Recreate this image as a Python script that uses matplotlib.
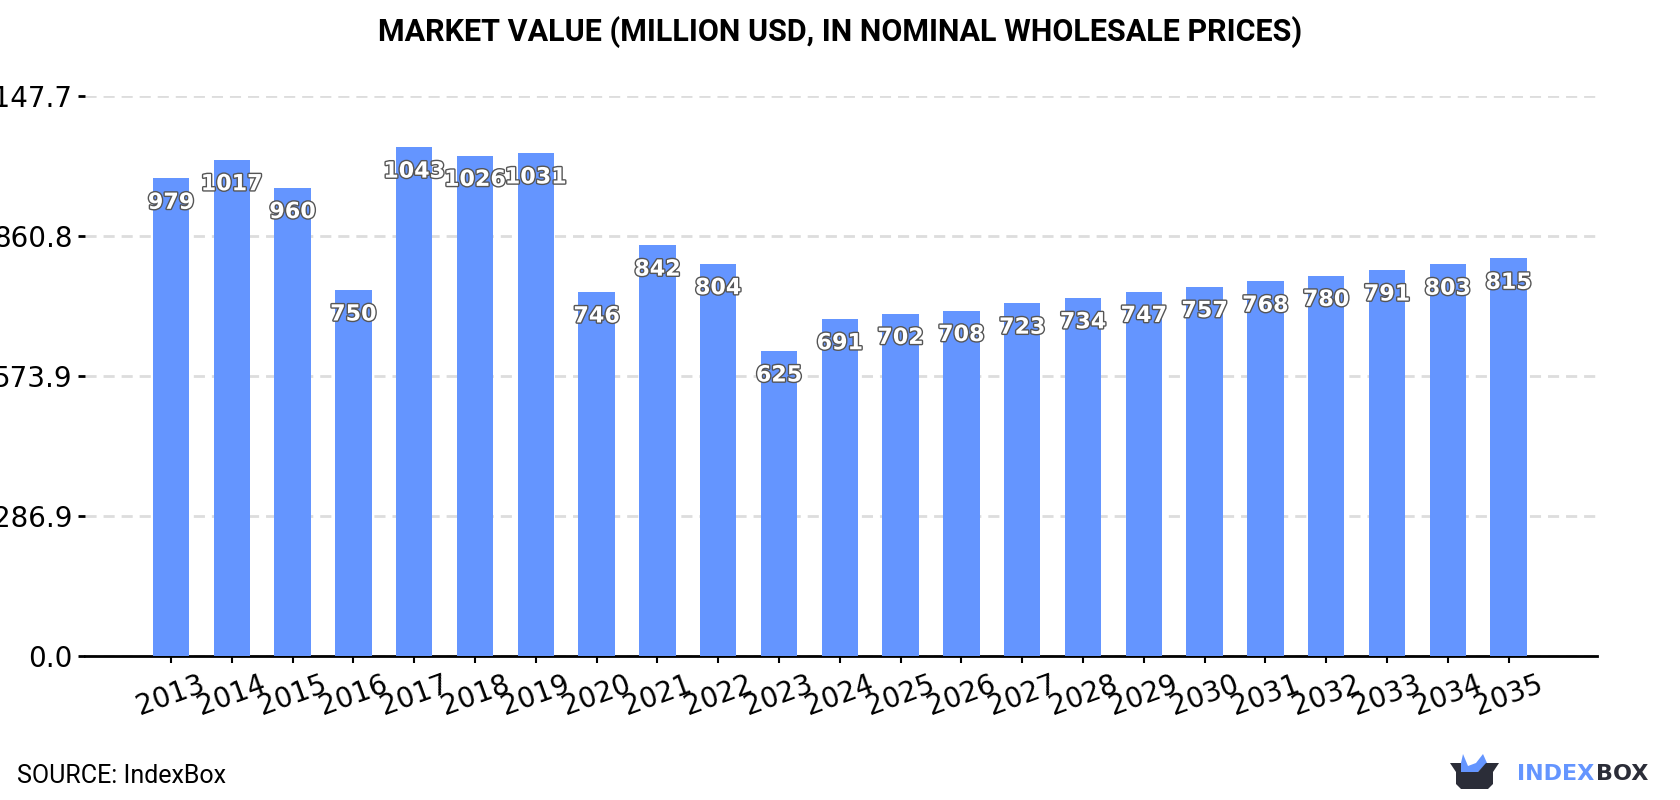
import matplotlib
matplotlib.use("Agg")
import matplotlib.pyplot as plt
import matplotlib.patheffects as pe
from matplotlib.patches import Polygon

years = list(range(2013, 2036))
values = [979, 1017, 960, 750, 1043, 1026, 1031, 746, 842, 804, 625, 691,
          702, 708, 723, 734, 747, 757, 768, 780, 791, 803, 815]
yticks = [0.0, 286.9, 573.9, 860.8, 1147.7]
ylabels = ["0.0", "286.9", "573.9", "860.8", "1147.7"]

BLUE = "#6495ff"
DARK = "#2b2d38"

W, H = 1680, 800
fig = plt.figure(figsize=(W / 100, H / 100), dpi=100, facecolor="white")
ax = fig.add_axes([85 / W, 1 - 656 / H, (1597 - 85) / W, (656 - 96.2) / H])

ax.bar(years, values, width=0.6, color=BLUE, zorder=3)
ax.set_xlim(2013 - 86 / 60.8, 2013 + (1597 - 171) / 60.8)
ax.set_ylim(0, 1147.7)

for s in ["top", "left", "right"]:
    ax.spines[s].set_visible(False)
ax.spines["bottom"].set_linewidth(2)

ax.set_yticks(yticks, ylabels, fontsize=20, family="DejaVu Sans")
ax.set_xticks(years, [str(y) for y in years], fontsize=20, rotation=20,
              family="DejaVu Sans")
ax.tick_params(axis="y", length=5, width=2, pad=4)
ax.tick_params(axis="x", length=5, width=1.5, pad=5)
ax.grid(axis="y", color="#dddddd", linestyle="--", linewidth=2, dashes=(4, 2.5),
        zorder=0)
ax.set_axisbelow(True)

# value labels sit just under the top of each bar
for x, v in zip(years, values):
    ax.annotate(str(v), (x, v), xytext=(0, -17.5), textcoords="offset points",
                ha="center", va="center", fontsize=16, fontweight="bold",
                family="DejaVu Sans", color="white", zorder=5,
                path_effects=[pe.withStroke(linewidth=2, foreground="#555555")])

fig.text(0.5 * (353 + 1215) / 1568, 1 - 32 / H,
         "MARKET VALUE (MILLION USD, IN NOMINAL WHOLESALE PRICES)",
         ha="center", va="center", fontsize=22, fontweight="bold", family="Roboto")
fig.text(17 / W, 1 - 776 / H, "SOURCE: IndexBox", ha="left", va="center",
         fontsize=18, family="Roboto")

# logo: open box with a blue shape inside, drawn in pixel coordinates
logo = fig.add_axes([0, 0, 1, 1], facecolor="none")
logo.set_xlim(0, W)
logo.set_ylim(H, 0)
logo.axis("off")
logo.add_patch(Polygon([(1461, 763), (1463, 754), (1468, 766), (1476, 763),
                        (1483, 754), (1487, 763), (1478, 772), (1461, 772)],
                       closed=True, color=BLUE, lw=0))
logo.add_patch(Polygon([(1450, 763), (1461, 763), (1461, 772), (1478, 772),
                        (1486, 763), (1499, 763), (1493, 772), (1493, 784),
                        (1488, 789), (1461, 789), (1456, 784), (1456, 772)],
                       closed=True, color=DARK, lw=0))
logo.text(1517, 774, "INDEX", ha="left", va="center", fontsize=16,
          fontweight="bold", family="DejaVu Sans", color=BLUE)
logo.text(1596, 774, "BOX", ha="left", va="center", fontsize=16,
          fontweight="bold", family="DejaVu Sans", color=DARK)

fig.savefig("out.png", dpi=100)
